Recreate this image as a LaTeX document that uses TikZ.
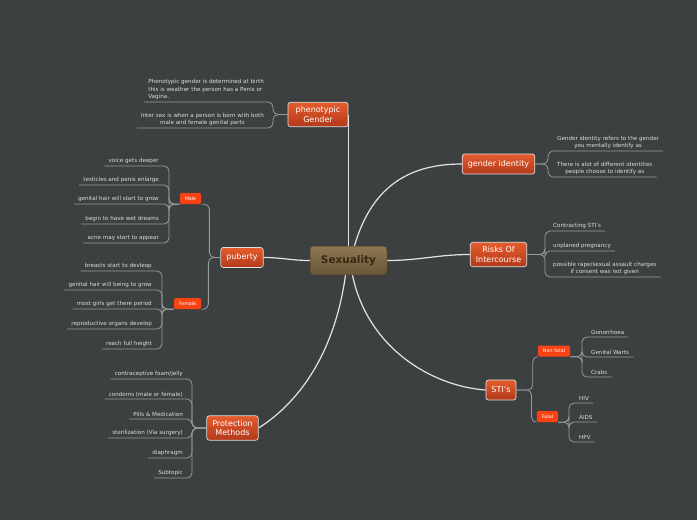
\documentclass[tikz,border=0pt]{standalone}
\usepackage{fontspec}
\setmainfont{DejaVu Sans}
\usepackage{tikz}
\definecolor{mapbg}{RGB}{60,64,65}
\definecolor{topictop}{RGB}{229,92,44}
\definecolor{topicbot}{RGB}{178,57,27}
\definecolor{subfill}{RGB}{250,66,18}
\definecolor{roottop}{RGB}{142,120,82}
\definecolor{rootbot}{RGB}{104,86,55}
\definecolor{roottext}{RGB}{58,40,20}
\definecolor{leaftext}{RGB}{222,222,222}
\definecolor{leafline}{RGB}{150,155,155}
\definecolor{trunkline}{RGB}{228,228,228}

\begin{document}
\begin{tikzpicture}[x=1pt, y=-1pt,
  root/.style={draw=rootbot!70!black, line width=0.5pt, rounded corners=3.5pt,
               top color=roottop, bottom color=rootbot, text=roottext,
               font=\fontsize{10.5}{12}\selectfont\bfseries,
               minimum width=77pt, minimum height=29pt, inner sep=0},
  topic/.style={draw=white!88!black, line width=0.7pt, rounded corners=2.5pt,
                top color=topictop, bottom color=topicbot, text=white,
                font=\fontsize{8}{9.2}\selectfont, align=center,
                inner xsep=5.5pt, inner ysep=4.5pt, minimum height=20pt},
  sub/.style={fill=subfill, rounded corners=1.5pt, text=white,
              font=\fontsize{4.8}{5.5}\selectfont, inner xsep=5pt, inner ysep=0,
              minimum height=11pt},
  leaf/.style={text=leaftext, font=\fontsize{5.6}{7.4}\selectfont,
               inner xsep=4pt, inner ysep=2pt},
  trunk/.style={draw=trunkline, line width=1.2pt},
  twig/.style={draw=leafline, line width=0.8pt, rounded corners=5pt},
]
\useasboundingbox (0,0) rectangle (697,520);
\fill[mapbg] (0,0) rectangle (697,520);

% ---- centre and main topics
\node[root] (sex) at (348.5,260.5) {Sexuality};
\node[topic, minimum width=60pt] (pheno) at (318,114.5) {phenotypic\\Gender};
\node[topic] (gid) at (498.5,164) {gender identity};
\node[topic] (risk) at (498.5,254.5) {Risks Of\\Intercourse};
\node[topic] (sti) at (501,390) {STI's};
\node[topic] (prot) at (232.5,428) {Protection\\Methods};
\node[topic] (pub) at (242,257.5) {puberty};

\draw[trunk] (sex.north) -- (sex.north |- pheno.east);
\draw[trunk] ([xshift=6pt]sex.north) .. controls +(18,-62) and +(-50,0) .. (gid.west);
\draw[trunk] (sex.east) to[out=0,in=180] (risk.west);
\draw[trunk] ([xshift=4pt]sex.south) .. controls +(15,72) and +(-55,-4) .. (sti.west);
\draw[trunk] ([xshift=-3pt]sex.south) .. controls +(-12,85) and +(35,-22) .. (prot.east);
\draw[trunk] (sex.west) to[out=180,in=0] (pub.east);

% ---- phenotypic gender
\node[leaf, anchor=south east, align=left] (ph1) at (268,102)
  {Phenotypic gender is determined at birth\\this is weather the person has a Penis or\\Vagina.};
\node[leaf, anchor=south east, align=center] (ph2) at (268,128)
  {Inter sex is when a person is born with both\\male and female genital parts};
\foreach \n in {ph1,ph2}
  \draw[twig] (pheno.west) -| ([xshift=5pt]\n.south east) -- (\n.south west);

% ---- gender identity
\node[leaf, anchor=south west, align=center] (gi1) at (553,151)
  {Gender identity refers to the gender\\you mentally identify as};
\node[leaf, anchor=south west, align=center] (gi2) at (553,177)
  {There is alot of different identities\\people choose to identify as};
\foreach \n in {gi1,gi2}
  \draw[twig] (gid.east) -| ([xshift=-5pt]\n.south west) -- (\n.south east);

% ---- risks
\node[leaf, anchor=south west] (ri1) at (549,231) {Contracting STI's};
\node[leaf, anchor=south west] (ri2) at (549,251) {unplaned pregnancy};
\node[leaf, anchor=south west, align=center] (ri3) at (549,277)
  {possible rape/sexual assault charges\\if consent was not given};
\foreach \n in {ri1,ri2,ri3}
  \draw[twig] (risk.east) -| ([xshift=-4pt]\n.south west) -- (\n.south east);

% ---- puberty: male / female
\node[sub] (male) at (190.5,198.5) {Male};
\node[sub] (female) at (187.5,303.5) {Female};
\draw[twig] (pub.west) -| ([xshift=8pt]male.south east) -- (male.south east);
\draw[twig] (pub.west) -| ([xshift=7pt]female.south east) -- (female.south east);
\foreach \txt/\y [count=\i] in {voice gets deeper/166, testicles and penis enlarge/185,
    genital hair will start to grow/204, begin to have wet dreams/224,
    acne may start to appear/243} {
  \node[leaf, anchor=south east] (ma\i) at (163,\y) {\txt};
  \draw[twig] (male.south west) -| ([xshift=6pt]ma\i.south east) -- (ma\i.south west);
}
\foreach \txt/\y [count=\i] in {breasts start to devleop/271, genital hair will being to grow/290,
    most girls get there period/309, reproductive organs develop/329,
    reach full height/349} {
  \node[leaf, anchor=south east] (fe\i) at (156,\y) {\txt};
  \draw[twig] (female.south west) -| ([xshift=6pt]fe\i.south east) -- (fe\i.south west);
}

% ---- protection methods
\foreach \txt/\y [count=\i] in {{contraceptive foam/jelly}/379, condoms (male or female)/399,
    Pills \& Medication/419, sterilization (Via surgery)/438, diaphragm/458, Subtopic/478} {
  \node[leaf, anchor=south east] (pm\i) at (187,\y) {\txt};
  \draw[twig] (prot.west) -| ([xshift=5pt]pm\i.south east) -- (pm\i.south west);
}

% ---- STI's: non-fatal / fatal
\node[sub] (nonfatal) at (554,351) {Non-fatal};
\node[sub] (fatal) at (547.5,416.5) {Fatal};
\draw[twig] (sti.east) -| ([xshift=-5pt]nonfatal.south west) -- (nonfatal.south west);
\draw[twig] (sti.east) -| ([xshift=-5pt]fatal.south west) -- (fatal.south west);
\foreach \txt/\y [count=\i] in {Gonorrhoea/337, Genital Warts/357, Crabs/377} {
  \node[leaf, anchor=south west] (nf\i) at (587,\y) {\txt};
  \draw[twig] (nonfatal.south east) -| ([xshift=-5pt]nf\i.south west) -- (nf\i.south east);
}
\foreach \txt/\y [count=\i] in {HIV/403, AIDS/422, HPV/442} {
  \node[leaf, anchor=south west] (fa\i) at (575,\y) {\txt};
  \draw[twig] (fatal.south east) -| ([xshift=-6pt]fa\i.south west) -- (fa\i.south east);
}
\end{tikzpicture}
\end{document}
